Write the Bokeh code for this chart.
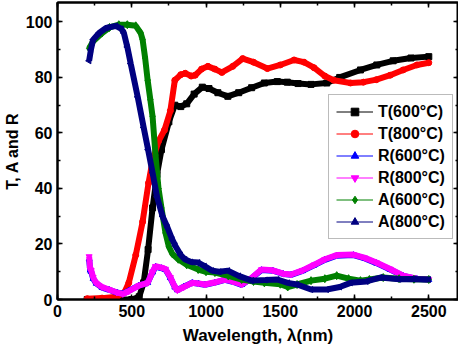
import math
from bokeh.plotting import figure
from bokeh.models import (LinearAxis, SingleIntervalTicker, Legend, LegendItem, Range1d,
                          CustomJSTickFormatter)
from bokeh.embed import file_html
from bokeh.resources import INLINE

# ---- data ----
t600_x = [200, 300, 400, 500, 550, 580, 610, 640, 670, 700, 750, 790, 830, 870, 920, 975,
          1020, 1080, 1147, 1220, 1307, 1393, 1480, 1547, 1620, 1707, 1813, 1900, 2040,
          2150, 2260, 2380, 2500]
t600_y = [0, 0, 0, 0, 1, 6, 18, 33, 45, 54, 64, 70, 69.5, 70.5, 74, 76.5,
          76, 74.5, 73.2, 74.5, 76.3, 78, 78.5, 78.3, 77.8, 77.5, 78, 80, 82.7,
          84.5, 86, 87, 87.5]

t800_x = [200, 300, 400, 450, 480, 527, 573, 613, 640, 680, 720, 760, 790, 830, 860, 900,
          927, 970, 1013, 1060, 1107, 1180, 1247, 1320, 1413, 1500, 1593, 1660, 1727,
          1800, 1860, 1973, 2060, 2147, 2240, 2327, 2420, 2500]
t800_y = [0.3, 0.5, 1, 2.5, 6, 16, 28, 42, 50, 57, 61, 68, 79, 81, 81.5, 80.5,
          80.8, 83, 84, 83, 81.8, 84, 86.8, 85.5, 83.2, 84.5, 86.3, 85.5, 83.5,
          80.5, 79, 78, 78.3, 79.2, 80.8, 82.7, 84.5, 85.3]

r600_x = [213, 220, 227, 240, 260, 300, 347, 400, 440, 480, 547, 607, 640, 660, 700, 727,
          760, 790, 807, 850, 907, 950, 993, 1060, 1127, 1180, 1240, 1300, 1373, 1450,
          1520, 1573, 1650, 1727, 1800, 1880, 1993, 2070, 2147, 2240, 2327, 2420, 2500]
r600_y = [14.5, 10.5, 10, 7.5, 5.8, 4.3, 3.5, 2.5, 2.1, 3.2, 5, 6, 9.8, 11.8, 11.3, 10.8,
          7.8, 4.4, 3.4, 4.6, 6, 5.7, 5.3, 6.1, 7.1, 6.4, 5.3, 7.4, 10.6, 10.4,
          9.2, 8.9, 10.3, 12.3, 14.3, 15.8, 16, 14.8, 13.1, 10.8, 8.5, 7.4, 7.1]

r800_x = r600_x
r800_y = [15.5, 11, 10.5, 8, 6, 4.5, 3.6, 2.5, 2, 3, 5, 6, 10, 12, 11.5, 11,
          8, 4.5, 3.3, 4.5, 6, 5.8, 5.4, 6.2, 7.2, 6.5, 5.4, 7.5, 10.8, 10.5,
          9.3, 9, 10.5, 12.5, 14.5, 16, 16.2, 15, 13.3, 11, 8.6, 7.5, 7.2]

a600_x = [213, 240, 300, 350, 413, 470, 527, 560, 573, 590, 607, 625, 640, 660, 680, 700,
          727, 750, 773, 813, 870, 947, 1000, 1060, 1150, 1240, 1320, 1393, 1500, 1550,
          1613, 1707, 1800, 1880, 1960, 2040, 2100, 2193, 2300, 2400, 2500]
a600_y = [90.5, 93, 96, 98, 99, 99, 98.6, 96, 93.6, 87, 79, 72, 66, 52, 40, 33,
          24, 19, 16.5, 14.5, 12.5, 10.8, 10, 9.7, 8.5, 7.2, 6.5, 6, 5.5, 4.5,
          5.4, 6.8, 7.5, 8.6, 7.5, 6.8, 7.2, 7.9, 7.5, 7.3, 7.2]

a800_x = [213, 225, 240, 280, 327, 393, 430, 447, 470, 493, 540, 580, 610, 640, 670, 707,
          740, 773, 793, 830, 860, 900, 947, 990, 1040, 1090, 1147, 1220, 1307, 1400,
          1480, 1550, 1613, 1707, 1813, 1900, 1973, 2080, 2173, 2300, 2400, 2500]
a800_y = [86, 90, 93.6, 96, 97.8, 98.6, 97.5, 96, 91, 85, 73, 62, 54, 45.7, 37, 30,
          26, 21.6, 19.4, 16, 14.4, 13.5, 13.3, 12, 10.4, 10, 10.4, 8.5, 6.8, 7,
          7.2, 6, 5.4, 3.6, 3.6, 4.5, 6, 6.5, 7.9, 7.3, 7.4, 7.2]

labels = ["T(600°C)", "T(800°C)", "R(600°C)", "R(800°C)", "A(600°C)", "A(800°C)"]

FONT = "Liberation Sans"

p = figure(width=458, height=348, x_range=Range1d(0, 2700), y_range=Range1d(0, 107),
           output_backend="svg", toolbar_location=None,
           min_border_left=53, min_border_right=0, min_border_top=2, min_border_bottom=49)
p.xgrid.visible = False
p.ygrid.visible = False
p.outline_line_color = "black"
p.outline_line_width = 2
p.background_fill_color = "white"
p.border_fill_color = "white"

def style_axis(ax, labels_on=True):
    ax.axis_line_width = 2
    ax.axis_line_color = "black"
    ax.major_tick_in = 5
    ax.major_tick_out = 0
    ax.minor_tick_in = 3
    ax.minor_tick_out = 0
    ax.major_tick_line_width = 1.5
    ax.minor_tick_line_width = 1.5
    ax.major_label_text_font = FONT
    ax.major_label_text_font_style = "bold"
    ax.major_label_text_color = "black"
    ax.axis_label_text_font = FONT
    ax.axis_label_text_font_style = "bold"
    ax.axis_label_text_color = "black"
    if labels_on:
        ax.major_label_text_font_size = "16px"
        ax.major_label_standoff = 5
    else:
        ax.major_label_text_font_size = "1px"
        ax.major_label_standoff = 0
        ax.formatter = CustomJSTickFormatter(code="return ''")

p.xaxis.ticker = SingleIntervalTicker(interval=500, num_minor_ticks=2)
p.yaxis.ticker = SingleIntervalTicker(interval=20, num_minor_ticks=2)
style_axis(p.xaxis[0])
style_axis(p.yaxis[0])
p.xaxis.axis_label = "Wavelength, λ(nm)"
p.yaxis.axis_label = "T, A and R"
p.xaxis.axis_label_text_font_size = "17px"
p.yaxis.axis_label_text_font_size = "16px"
p.xaxis.axis_label_standoff = 6
p.yaxis.axis_label_standoff = 2

top = LinearAxis(ticker=SingleIntervalTicker(interval=500, num_minor_ticks=2))
style_axis(top, labels_on=False)
p.add_layout(top, "above")
right = LinearAxis(ticker=SingleIntervalTicker(interval=20, num_minor_ticks=2))
style_axis(right, labels_on=False)
p.add_layout(right, "right")

series = [
    (t600_x, t600_y, "black", "square", 0),
    (t800_x, t800_y, "red", "circle", 0),
    (r600_x, r600_y, "blue", "triangle", 0),
    (r800_x, r800_y, "magenta", "inverted_triangle", 0),
    (a600_x, a600_y, "green", "diamond", 0),
    (a800_x, a800_y, "navy", "triangle", math.pi / 2),
]

items = []
for (xs, ys, col, mk, ang), lab in zip(series, labels):
    p.line(xs, ys, line_color=col, line_width=6)
    thin = p.line(xs, ys, line_color=col, line_width=1)
    sc = p.scatter(xs, ys, marker=mk, size=6 if mk != "diamond" else 8, angle=ang,
                   fill_color=col, line_color=col)
    items.append(LegendItem(label=lab, renderers=[thin, sc]))

legend = Legend(items=items, location=(271, 60))
legend.label_text_font = FONT
legend.label_text_font_style = "bold"
legend.label_text_font_size = "16px"
legend.label_text_color = "black"
legend.glyph_width = 37
legend.glyph_height = 19
legend.label_height = 19
legend.spacing = 3
legend.padding = 7
legend.margin = 0
legend.label_standoff = 5
legend.border_line_color = "#777777"
legend.border_line_width = 1
legend.background_fill_color = "white"
legend.background_fill_alpha = 1
p.add_layout(legend, "center")

open("out.html", "w").write(file_html(p, INLINE))
